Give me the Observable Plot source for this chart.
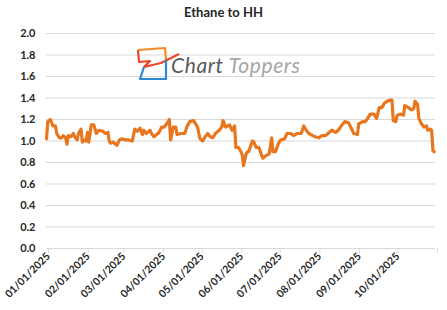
<!DOCTYPE html>
<html><head><meta charset="utf-8">
<script src="https://cdn.jsdelivr.net/npm/d3@7"></script>
<script src="https://cdn.jsdelivr.net/npm/@observablehq/plot@0.6"></script>
<style>
body{margin:0;background:#fff;}
#wrap{position:relative;width:447px;height:310px;overflow:hidden;}
#title{position:absolute;left:0;top:4px;width:447px;text-align:center;font:bold 13px Lato,sans-serif;color:#262626;}
#logo{position:absolute;left:135px;top:45px;width:180px;height:40px;}
#logotext{position:absolute;left:36px;top:7px;font:italic 21px Lato,sans-serif;letter-spacing:0.6px;white-space:nowrap;}
</style></head><body>
<div id="wrap">
<div id="chart"></div>
<div id="title">Ethane to HH</div>
<div id="logo">
<svg width="48" height="38" style="position:absolute;left:0;top:0" fill="none" stroke-width="2.2" stroke-linejoin="round">
<path d="M3,5 L30,3 L31,15" stroke="#f28a24"/>
<path d="M3,5 L4,17 L15,16 L9,22 L26,18 L44,9" stroke="#e8472c"/>
<path d="M9,22 L5,34 L31,34 L31,15" stroke="#2b8ad1"/>
</svg>
<div id="logotext"><span style="color:#595959">Chart</span> <span style="color:#a6a6a6">Toppers</span></div>
</div>
</div>
<script>
const dates = [
"2025-01-01","2025-01-02","2025-01-04","2025-01-06","2025-01-08","2025-01-09","2025-01-11","2025-01-13","2025-01-14","2025-01-16",
"2025-01-17","2025-01-18","2025-01-20","2025-01-22","2025-01-23","2025-01-25","2025-01-26","2025-01-28","2025-01-29","2025-01-30",
"2025-02-01","2025-02-02","2025-02-03","2025-02-05","2025-02-07","2025-02-09","2025-02-11","2025-02-14","2025-02-16","2025-02-18",
"2025-02-19","2025-02-20","2025-02-22","2025-02-25","2025-02-27","2025-03-01","2025-03-04","2025-03-06","2025-03-09","2025-03-11",
"2025-03-13","2025-03-15","2025-03-17","2025-03-18","2025-03-20","2025-03-23","2025-03-24","2025-03-26","2025-03-30","2025-04-01",
"2025-04-03","2025-04-05","2025-04-07","2025-04-08","2025-04-10","2025-04-12","2025-04-13","2025-04-16","2025-04-19","2025-04-21",
"2025-04-23","2025-04-26","2025-04-29","2025-05-01","2025-05-03","2025-05-05","2025-05-07","2025-05-09","2025-05-11","2025-05-13",
"2025-05-16","2025-05-18","2025-05-19","2025-05-21","2025-05-24","2025-05-26","2025-05-28","2025-05-29","2025-05-31","2025-06-02",
"2025-06-03","2025-06-04","2025-06-06","2025-06-07","2025-06-08","2025-06-10","2025-06-11","2025-06-12","2025-06-14","2025-06-16",
"2025-06-19","2025-06-21","2025-06-24","2025-06-26","2025-06-27","2025-06-29","2025-07-01","2025-07-03","2025-07-06","2025-07-08",
"2025-07-11","2025-07-13","2025-07-16","2025-07-19","2025-07-21","2025-07-23","2025-07-25","2025-07-28","2025-07-30","2025-08-02",
"2025-08-04","2025-08-07","2025-08-09","2025-08-12","2025-08-15","2025-08-17","2025-08-20","2025-08-22","2025-08-25","2025-08-28",
"2025-08-29","2025-09-01","2025-09-02","2025-09-05","2025-09-07","2025-09-09","2025-09-11","2025-09-14","2025-09-16","2025-09-18",
"2025-09-20","2025-09-22","2025-09-24","2025-09-27","2025-09-28","2025-09-29","2025-10-01","2025-10-02","2025-10-05","2025-10-07",
"2025-10-08","2025-10-11","2025-10-13","2025-10-15","2025-10-16","2025-10-18","2025-10-19","2025-10-21","2025-10-23","2025-10-25",
"2025-10-26","2025-10-28","2025-10-29","2025-10-30","2025-10-31"
];
const values = [
1.02,1.18,1.20,1.14,1.14,1.07,1.03,1.03,1.05,1.03,
0.97,1.05,1.04,1.07,1.04,1.01,1.07,1.11,0.99,1.01,
1.00,1.08,0.99,1.15,1.15,1.07,1.10,1.09,1.07,1.08,
1.00,0.98,0.99,0.96,1.01,1.02,1.01,1.01,1.00,1.11,
1.09,1.12,1.06,1.10,1.07,1.10,1.07,1.04,1.08,1.13,
1.13,1.16,1.20,1.01,1.13,1.13,1.06,1.07,1.07,1.14,
1.18,1.19,1.13,1.02,1.00,1.04,1.07,1.04,1.03,1.07,
1.10,1.13,1.19,1.13,1.15,1.10,1.14,0.94,0.94,0.90,
0.87,0.77,0.88,0.90,0.90,0.97,1.00,0.99,0.94,0.94,
0.84,0.86,0.88,1.03,0.90,0.90,0.97,1.01,1.02,1.07,
1.07,1.05,1.07,1.07,1.14,1.10,1.07,1.05,1.04,1.03,
1.05,1.05,1.07,1.10,1.08,1.10,1.15,1.18,1.17,1.10,
1.07,1.06,1.16,1.18,1.18,1.21,1.25,1.25,1.21,1.31,
1.31,1.35,1.37,1.38,1.38,1.19,1.18,1.24,1.25,1.24,
1.33,1.31,1.29,1.30,1.37,1.34,1.21,1.16,1.13,1.14,
1.10,1.11,1.10,0.91,0.90
];
const yTicks = [0, 0.2, 0.4, 0.6, 0.8, 1.0, 1.2, 1.4, 1.6, 1.8, 2.0];
const monthTicks = ["2025-01-01","2025-02-01","2025-03-01","2025-04-01","2025-05-01","2025-06-01","2025-07-01","2025-08-01","2025-09-01","2025-10-01","2025-11-01"];
const xDomain = ["2025-01-01","2025-11-01"];

const data = dates.map((d, i) => ({date: new Date(d), value: values[i]}));
const fmt = d3.utcFormat("%m/%d/%Y");

const chart = Plot.plot({
  width: 447, height: 310,
  marginLeft: 46, marginRight: 12, marginTop: 33, marginBottom: 62,
  style: {fontFamily: "Lato, sans-serif", fontSize: "11px", background: "white", overflow: "visible"},
  x: {type: "utc", domain: xDomain.map(d => new Date(d))},
  y: {domain: [0, 2]},
  marks: [
    Plot.gridY(yTicks, {stroke: "#d9d9d9", strokeOpacity: 1, strokeWidth: 1}),
    Plot.axisY(yTicks, {tickSize: 0, tickPadding: 11, label: null, tickFormat: d => d.toFixed(1), fill: "#262626", fontWeight: "bold", fontSize: 11}),
    Plot.ruleY([0], {stroke: "#d9d9d9", strokeWidth: 1}),
    Plot.axisX(monthTicks.map(d => new Date(d)), {
      tickFormat: d => d.getUTCMonth() === 10 ? "" : fmt(d),
      tickRotate: -45, tickSize: 5, tickPadding: 1, label: null,
      stroke: "#d9d9d9", fill: "#262626", fontWeight: "bold", fontSize: 10.5, dx: 2
    }),
    Plot.line(data, {x: "date", y: "value", stroke: "#E8761E", strokeWidth: 3.2, strokeLinejoin: "round"})
  ]
});
document.getElementById("chart").appendChild(chart);
</script>
</body></html>
